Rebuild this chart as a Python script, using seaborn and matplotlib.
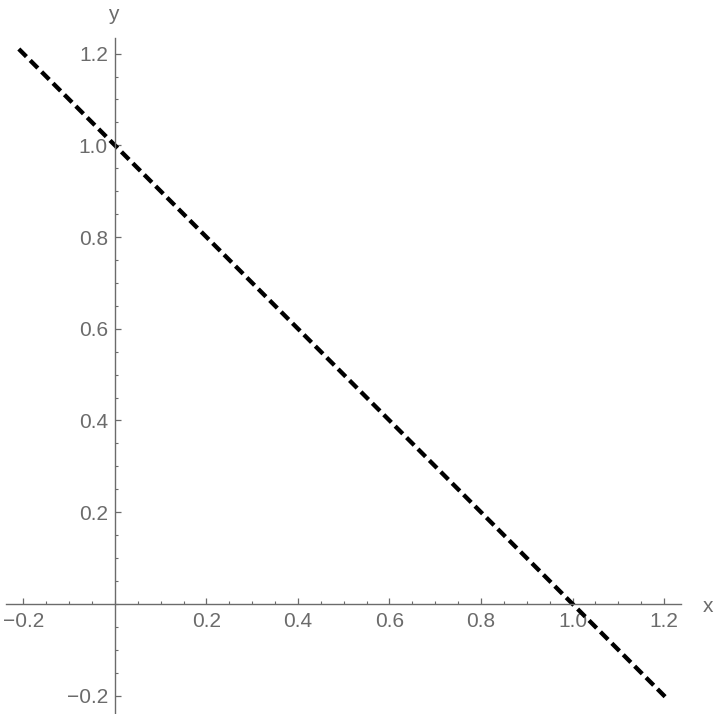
import matplotlib
matplotlib.use("Agg")
import matplotlib.pyplot as plt
import seaborn as sns
import numpy as np
import pandas as pd
from matplotlib.ticker import MultipleLocator, FuncFormatter

# Data: the line y = 1 - x, read at its two ends
x_vals = [-0.21, 1.21]
y_vals = [1.21, -0.21]
x_ticks = [-0.2, 0.2, 0.4, 0.6, 0.8, 1.0, 1.2]
y_ticks = [-0.2, 0.2, 0.4, 0.6, 0.8, 1.0, 1.2]

sns.set_style("white")
plt.rcParams['font.family'] = ['Liberation Sans', 'DejaVu Sans']

grey = "#6b6b6b"
fig = plt.figure(figsize=(7.22, 7.14), dpi=100)
ax = fig.add_axes([6/722, 0, 675/722, 676/714])

df = pd.DataFrame({"x": x_vals, "y": y_vals})
sns.lineplot(data=df, x="x", y="y", ax=ax, color="black", linewidth=3.1)
ax.lines[0].set_dashes([2.5, 1.25])

ax.set_xlim(-0.238, 1.237)
ax.set_ylim(-0.24, 1.234)

for s in ["top", "right"]:
    ax.spines[s].set_visible(False)
ax.spines["left"].set_position(("data", 0))
ax.spines["bottom"].set_position(("data", 0))
for s in ["left", "bottom"]:
    ax.spines[s].set_color(grey)
    ax.spines[s].set_linewidth(1.0)

ax.set_xticks(x_ticks)
ax.set_yticks(y_ticks)
ax.xaxis.set_minor_locator(MultipleLocator(0.05))
ax.yaxis.set_minor_locator(MultipleLocator(0.05))
fmt = FuncFormatter(lambda v, p: f"{v:.1f}".replace("-", "\u2212"))
ax.xaxis.set_major_formatter(fmt)
ax.yaxis.set_major_formatter(fmt)

ax.tick_params(axis="both", which="major", direction="in", length=4, width=0.9,
               color=grey, labelcolor=grey, labelsize=15)
ax.tick_params(axis="both", which="minor", direction="in", length=2.5, width=0.8,
               color=grey)
ax.tick_params(axis="x", which="both", bottom=True, top=False)
ax.tick_params(axis="x", which="major", pad=6)
ax.tick_params(axis="y", which="both", left=True, right=False)
ax.tick_params(axis="y", which="major", pad=5)

ax.set_xlabel("")
ax.set_ylabel("")
fig.text(708/722, 1 - 606/714, "x", color=grey, fontsize=15, ha="center", va="center")
fig.text(113/722, 1 - 15/714, "y", color=grey, fontsize=15, ha="center", va="center")

fig.savefig("out.png", dpi=100)
